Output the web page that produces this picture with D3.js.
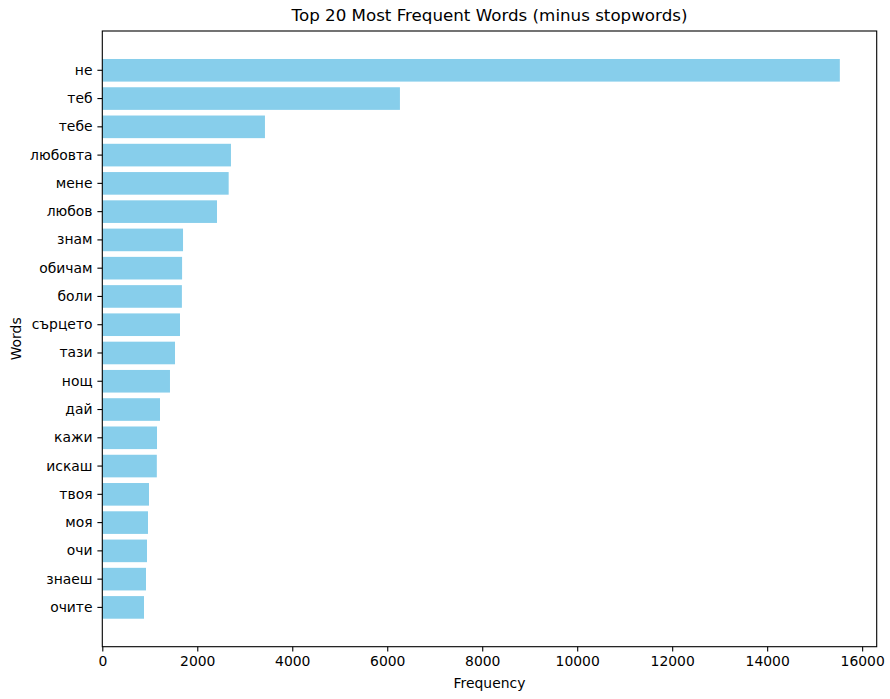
<!DOCTYPE html>
<html>
<head>
<meta charset="utf-8">
<script src="https://cdn.jsdelivr.net/npm/d3@7"></script>
<style>
  body { margin: 0; background: #fff; }
  text { font-family: "DejaVu Sans", sans-serif; fill: #000; }
  .axis text { font-size: 13.9px; }
  .axis path, .axis line { stroke: #000; stroke-width: 1.1; }
</style>
</head>
<body>
<svg id="chart"></svg>
<script>
// Words, top to bottom
const words = ['не', 'теб', 'тебе', 'любовта', 'мене', 'любов', 'знам', 'обичам', 'боли', 'сърцето',
               'тази', 'нощ', 'дай', 'кажи', 'искаш', 'твоя', 'моя', 'очи', 'знаеш', 'очите'];
const counts = [15530, 6267, 3425, 2709, 2661, 2415, 1700, 1680, 1676, 1636,
                1531, 1425, 1215, 1152, 1148, 983, 962, 941, 920, 878];
const xTicks = [0, 2000, 4000, 6000, 8000, 10000, 12000, 14000, 16000];

const data = words.map((w, i) => ({word: w, count: counts[i]}));

const config = {
  containerWidth: 890,
  containerHeight: 699,
  margin: {top: 31, right: 13.3, bottom: 52.3, left: 102.3},
  barColor: '#87ceeb'
};

const width = config.containerWidth - config.margin.left - config.margin.right;
const height = config.containerHeight - config.margin.top - config.margin.bottom;

const svg = d3.select('#chart')
    .attr('width', config.containerWidth)
    .attr('height', config.containerHeight);

const chart = svg.append('g')
    .attr('transform', `translate(${config.margin.left},${config.margin.top})`);

// matplotlib-like limits: 5% headroom on x, 0.8 bar height with margins on y
const xScale = d3.scaleLinear()
    .domain([0, d3.max(counts) * 1.05])
    .range([0, width]);

const yScale = d3.scaleBand()
    .domain(words)
    .range([0, height])
    .paddingInner(0.2)
    .paddingOuter(0.99);

chart.selectAll('.bar')
    .data(data)
    .join('rect')
    .attr('class', 'bar')
    .attr('x', 0)
    .attr('y', d => yScale(d.word))
    .attr('width', d => xScale(d.count))
    .attr('height', yScale.bandwidth())
    .attr('fill', config.barColor);

const xAxis = d3.axisBottom(xScale)
    .tickValues(xTicks)
    .tickFormat(d3.format('d'))
    .tickSize(4.9)
    .tickSizeOuter(0)
    .tickPadding(4.9);

const yAxis = d3.axisLeft(yScale)
    .tickSize(4.9)
    .tickSizeOuter(0)
    .tickPadding(4.9);

chart.append('g')
    .attr('class', 'axis x-axis')
    .attr('transform', `translate(0,${height})`)
    .call(xAxis)
    .call(g => g.select('.domain').remove());

chart.append('g')
    .attr('class', 'axis y-axis')
    .call(yAxis)
    .call(g => g.select('.domain').remove());

// frame (spines)
chart.append('rect')
    .attr('width', width)
    .attr('height', height)
    .attr('fill', 'none')
    .attr('stroke', '#000')
    .attr('stroke-width', 1.1);

chart.append('text')
    .attr('x', width / 2)
    .attr('y', -10)
    .style('text-anchor', 'middle')
    .style('font-size', '16.7px')
    .text('Top 20 Most Frequent Words (minus stopwords)');

chart.append('text')
    .attr('x', width / 2)
    .attr('y', height + 41)
    .style('text-anchor', 'middle')
    .style('font-size', '13.9px')
    .text('Frequency');

chart.append('text')
    .attr('transform', `translate(${-81},${height / 2}) rotate(-90)`)
    .style('text-anchor', 'middle')
    .style('font-size', '13.9px')
    .text('Words');
</script>
</body>
</html>
